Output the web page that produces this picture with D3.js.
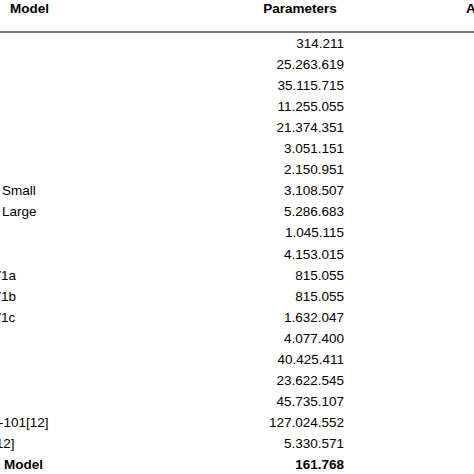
<!DOCTYPE html>
<html>
<head>
<script src="https://cdn.jsdelivr.net/npm/d3@7"></script>
<style>
body { margin: 0; background: #fff; }
text { font-family: "Liberation Sans", Arial, sans-serif; font-size: 13.5px; fill: #000; }
</style>
</head>
<body>
<svg width="474" height="474"></svg>
<script>
// visible parts of the model names (image is cropped on the left)
const models = ["", "", "", "", "", "", "", "Small", "Large", "", "",
    "V1a", "V1b", "V1c", "", "", "", "", "ResNet-101[12]", "[12]", "Proposed Model"];
const labelShift = [0, 0, 0, 0, 0, 0, 0, 2, 2, 0, 0, -8, -8, -8, 0, 0, 0, 0, -46, -8, -62];
const params = ["314.211", "25.263.619", "35.115.715", "11.255.055", "21.374.351",
    "3.051.151", "2.150.951", "3.108.507", "5.286.683", "1.045.115", "4.153.015",
    "815.055", "815.055", "1.632.047", "4.077.400", "40.425.411", "23.622.545",
    "45.735.107", "127.024.552", "5.330.571", "161.768"];
const headers = ["Model", "Parameters", "Accuracy"];

const svg = d3.select("svg");
const y = d3.scaleBand().domain(d3.range(params.length)).range([32.5, 474.5]);
const last = params.length - 1;

svg.append("g").selectAll("text").data(headers).enter().append("text")
    .attr("x", (d, i) => [10, 300, 466][i])
    .attr("y", 13)
    .attr("text-anchor", (d, i) => i === 1 ? "middle" : "start")
    .style("font-weight", "bold")
    .text(d => d);

svg.append("line").attr("x1", 0).attr("x2", 474).attr("y1", 32).attr("y2", 32)
    .attr("stroke", "#777").attr("stroke-width", 2);

svg.append("g").selectAll("text").data(models).enter().append("text")
    .attr("x", (d, i) => labelShift[i])
    .attr("y", (d, i) => y(i) + y.bandwidth() / 2 + 5)
    .style("font-weight", (d, i) => i === last ? "bold" : null)
    .text(d => d);

svg.append("g").selectAll("text").data(params).enter().append("text")
    .attr("x", 344)
    .attr("y", (d, i) => y(i) + y.bandwidth() / 2 + 5)
    .attr("text-anchor", "end")
    .style("font-weight", (d, i) => i === last ? "bold" : null)
    .text(d => d);
</script>
</body>
</html>
